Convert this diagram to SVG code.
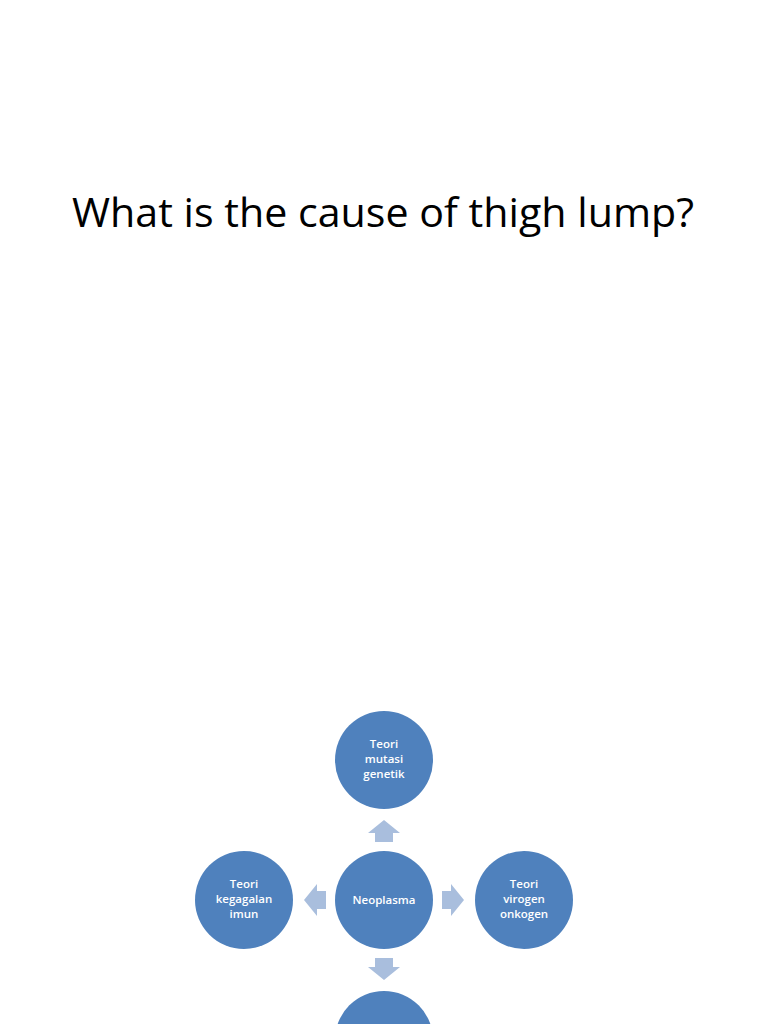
<svg xmlns="http://www.w3.org/2000/svg" width="768" height="1024" viewBox="0 0 768 1024">
<style>
.n{fill:#4F81BD}
.a{fill:#A9BEDD}
.t{font-family:"Open Sans","Liberation Sans",sans-serif;font-size:11.5px;font-weight:600;fill:#fff;text-anchor:middle}
.h{font-family:"Open Sans","Liberation Sans",sans-serif;font-size:41px;fill:#000;text-anchor:middle}
</style>
<rect width="768" height="1024" fill="#fff"/>
<text class="h" x="383" y="227" textLength="622" lengthAdjust="spacingAndGlyphs">What is the cause of thigh lump?</text>
<g id="connectors">
<polygon class="a" points="375,842 375,833 368,833 384,820 400,833 393,833 393,842"/>
<polygon class="a" points="375,958 375,967 368,967 384,980 400,967 393,967 393,958"/>
<polygon class="a" points="326,891 317,891 317,884 304,900 317,916 317,909 326,909"/>
<polygon class="a" points="442,891 451,891 451,884 464,900 451,916 451,909 442,909"/>
</g>
<g id="n-top"><circle class="n" cx="384" cy="760" r="49"/>
<text class="t" x="384" y="748">Teori</text><text class="t" x="384" y="763">mutasi</text><text class="t" x="384" y="778">genetik</text></g>
<g id="n-center"><circle class="n" cx="384" cy="900" r="49"/>
<text class="t" x="384" y="904">Neoplasma</text></g>
<g id="n-left"><circle class="n" cx="244" cy="900" r="49"/>
<text class="t" x="244" y="888">Teori</text><text class="t" x="244" y="903">kegagalan</text><text class="t" x="244" y="918">imun</text></g>
<g id="n-right"><circle class="n" cx="524" cy="900" r="49"/>
<text class="t" x="524" y="888">Teori</text><text class="t" x="524" y="903">virogen</text><text class="t" x="524" y="918">onkogen</text></g>
<g id="n-bottom"><circle class="n" cx="384" cy="1040" r="49"/></g>
</svg>
